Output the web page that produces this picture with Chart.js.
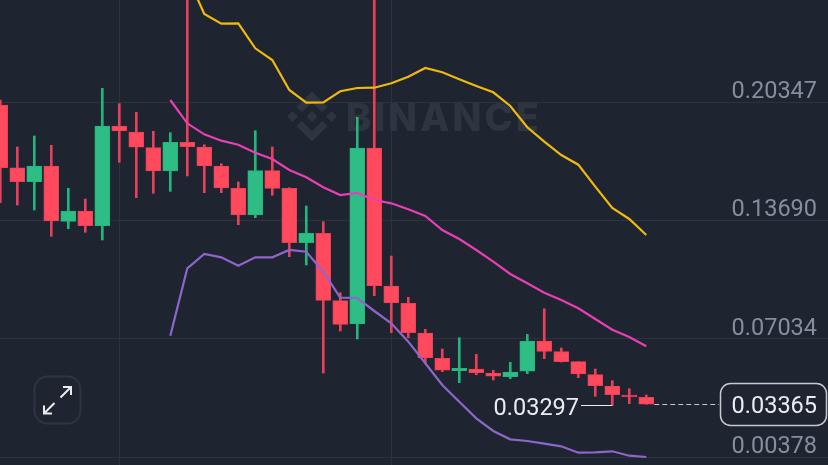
<!DOCTYPE html>
<html>
<head>
<meta charset="utf-8">
<title>Price chart</title>
<style>
  html, body { margin: 0; padding: 0; background: #1e2530; overflow: hidden; }
  canvas { display: block; }
</style>
<script src="https://cdn.jsdelivr.net/npm/chart.js@4/dist/chart.umd.min.js"></script>
</head>
<body>
<canvas id="price-chart" width="828" height="465"></canvas>
<script>
// Candles. Two wicks run off the top, so their highs are estimates.
const opens = [0.20179, 0.16655, 0.15869, 0.16751, 0.13643, 0.14222, 0.13396, 0.18999, 0.18662, 0.17779,
  0.16470, 0.18083, 0.17819, 0.16751, 0.15498, 0.13998, 0.16487, 0.15498, 0.12441, 0.12969,
  0.09182, 0.07872, 0.17762, 0.10008, 0.09036, 0.07367, 0.05945, 0.05248, 0.05344, 0.05119,
  0.04911, 0.05215, 0.06917, 0.06316, 0.05754, 0.05023, 0.04389, 0.03883, 0.03754];
const closes = [0.16655, 0.15869, 0.16751, 0.13660, 0.14222, 0.13396, 0.18999, 0.18718, 0.17802, 0.16470,
  0.18083, 0.17835, 0.16751, 0.15515, 0.13998, 0.16487, 0.15498, 0.12441, 0.12969, 0.09204,
  0.07855, 0.17762, 0.10025, 0.09053, 0.07384, 0.05962, 0.05271, 0.05383, 0.05136, 0.04934,
  0.05175, 0.06917, 0.06338, 0.05754, 0.05063, 0.04405, 0.03900, 0.03770, 0.03365];
const highs = [0.20460, 0.17819, 0.18437, 0.17914, 0.15498, 0.14897, 0.21117, 0.20252, 0.19768, 0.18701,
  0.18622, 0.29000, 0.17948, 0.16880, 0.15852, 0.18735, 0.17819, 0.15532, 0.14503, 0.13621,
  0.09631, 0.19488, 0.29000, 0.11694, 0.09373, 0.07575, 0.06468, 0.07103, 0.06170, 0.05271,
  0.05720, 0.07294, 0.08732, 0.06524, 0.05754, 0.05344, 0.04686, 0.04237, 0.03883];
const lows = [0.14689, 0.14559, 0.14278, 0.12801, 0.13228, 0.13025, 0.12593, 0.16959, 0.14970, 0.15217,
  0.15329, 0.16189, 0.15251, 0.15251, 0.13452, 0.13846, 0.15104, 0.11654, 0.11188, 0.05119,
  0.07479, 0.07030, 0.09463, 0.07384, 0.07103, 0.05664, 0.05192, 0.04574, 0.05023, 0.04726,
  0.04799, 0.05080, 0.05923, 0.05737, 0.04855, 0.03810, 0.03297, 0.03394, 0.03365];

// Bollinger bands only start at candle 10
const bandStart = 10;
const upperBand = [0.29451, 0.27428, 0.25292, 0.24747, 0.24770, 0.23365, 0.22707, 0.21022, 0.20308, 0.20330,
  0.20949, 0.21134, 0.21151, 0.21398, 0.21769, 0.22258, 0.22016, 0.21623, 0.21246, 0.20892,
  0.20123, 0.18926, 0.18116, 0.17369, 0.16824, 0.15588, 0.14391, 0.13773, 0.12874];
const middleBand = [0.20460, 0.19150, 0.18532, 0.18173, 0.17948, 0.17498, 0.17144, 0.16526, 0.16116, 0.15554,
  0.15121, 0.15234, 0.14840, 0.14655, 0.14318, 0.13941, 0.13155, 0.12649, 0.12031, 0.11373,
  0.10682, 0.10159, 0.09631, 0.09221, 0.08755, 0.08153, 0.07552, 0.07142, 0.06619];
const lowerBand = [0.07215, 0.11002, 0.11806, 0.11620, 0.11148, 0.11620, 0.11620, 0.12031, 0.11935, 0.10811,
  0.09350, 0.09333, 0.08603, 0.07912, 0.06878, 0.05664, 0.04445, 0.03506, 0.02573, 0.01860,
  0.01393, 0.01298, 0.01146, 0.01000, 0.00640, 0.00663, 0.00719, 0.00472, 0.00399];

const priceTicks = [0.20347, 0.13690, 0.07034, 0.00378];
const timeGridlines = [7, 23];
const lastPrice = 0.03365;
const lowPrice = 0.03297;
const lowIndex = 36;

const RED = "#ff4a5e";
const GREEN = "#2ebd85";
const RED_WICK = "#e8405a";
const GREEN_WICK = "#22b57c";
const GRID = "#2c323e";
const FONT = "Roboto, 'Noto Sans', sans-serif";

const isUp = (i) => closes[i] >= opens[i];
const bandPoints = (values) => values.map((y, i) => ({ x: i + bandStart, y }));

function bandDataset(label, values, color) {
  return {
    type: "line",
    label,
    data: bandPoints(values),
    borderColor: color,
    borderWidth: 2.2,
    pointRadius: 0,
    tension: 0,
    order: 0,
  };
}

// Binance watermark and the overlays the exchange draws on top of its chart
function drawWatermark(ctx) {
  ctx.save();
  ctx.fillStyle = "#2f3540";
  const cx = 312, cy = 116.5;
  const diamond = (x, y, r) => {
    ctx.beginPath();
    ctx.moveTo(x, y - r);
    ctx.lineTo(x + r, y);
    ctx.lineTo(x, y + r);
    ctx.lineTo(x - r, y);
    ctx.closePath();
    ctx.fill();
  };
  diamond(cx, cy, 5.5);
  diamond(cx - 19.5, cy, 5.5);
  diamond(cx + 19.5, cy, 5.5);
  // top and bottom chevrons
  [-1, 1].forEach((s) => {
    ctx.beginPath();
    ctx.moveTo(cx, cy + s * 25);
    ctx.lineTo(cx + 15.5, cy + s * 9.5);
    ctx.lineTo(cx + 10, cy + s * 4.5);
    ctx.lineTo(cx, cy + s * 14.5);
    ctx.lineTo(cx - 10, cy + s * 4.5);
    ctx.lineTo(cx - 15.5, cy + s * 9.5);
    ctx.closePath();
    ctx.fill();
  });
  ctx.font = "800 38px Inter, " + FONT;
  ctx.letterSpacing = "3px";
  ctx.textAlign = "left";
  ctx.textBaseline = "alphabetic";
  ctx.fillText("BINANCE", 346, 130.5);
  ctx.restore();
}

function drawExpandButton(ctx) {
  ctx.save();
  ctx.strokeStyle = "#2f3540";
  ctx.lineWidth = 2;
  ctx.beginPath();
  ctx.roundRect(34.5, 376.5, 46, 47, 13);
  ctx.stroke();
  ctx.strokeStyle = "#eaecef";
  ctx.lineWidth = 2;
  ctx.beginPath();
  ctx.moveTo(60.5, 397.5);
  ctx.lineTo(71, 387);
  ctx.moveTo(63, 387);
  ctx.lineTo(71, 387);
  ctx.lineTo(71, 395);
  ctx.moveTo(54.5, 403);
  ctx.lineTo(44, 413.5);
  ctx.moveTo(44, 405.5);
  ctx.lineTo(44, 413.5);
  ctx.lineTo(52, 413.5);
  ctx.stroke();
  ctx.restore();
}

function drawPriceLabels(chart) {
  const { ctx, scales } = chart;
  const lastY = Math.round(scales.y.getPixelForValue(lastPrice)) + 0.5;
  const lastX = scales.x.getPixelForValue(opens.length - 1) + 8;
  ctx.save();

  // dashed line from the last candle to the price box
  ctx.strokeStyle = "#c4c9d0";
  ctx.lineWidth = 1;
  ctx.setLineDash([5, 3]);
  ctx.beginPath();
  ctx.moveTo(lastX, lastY);
  ctx.lineTo(719, lastY);
  ctx.stroke();
  ctx.setLineDash([]);

  // price box
  ctx.strokeStyle = "#c4c9d0";
  ctx.lineWidth = 1.5;
  ctx.fillStyle = "#1e2530";
  ctx.beginPath();
  ctx.roundRect(720.5, 383.5, 106, 42, 10);
  ctx.fill();
  ctx.stroke();

  ctx.font = "400 23.5px " + FONT;
  ctx.fillStyle = "#eaecef";
  ctx.textBaseline = "middle";
  ctx.textAlign = "right";
  ctx.fillText(lastPrice.toFixed(5), 817, 407.5);

  // marker for the lowest visible price
  const lowY = Math.round(scales.y.getPixelForValue(lowPrice)) + 0.5;
  const lowX = scales.x.getPixelForValue(lowIndex);
  ctx.fillText(lowPrice.toFixed(5), 579, lowY + 3.5);
  ctx.strokeStyle = "#eaecef";
  ctx.lineWidth = 1;
  ctx.beginPath();
  ctx.moveTo(581, lowY);
  ctx.lineTo(lowX, lowY);
  ctx.stroke();
  ctx.restore();
}

const overlayPlugin = {
  id: "overlay",
  beforeDatasetsDraw(chart) {
    drawWatermark(chart.ctx);
  },
  afterDatasetsDraw(chart) {
    drawPriceLabels(chart);
    drawExpandButton(chart.ctx);
  },
};

// The axes sit inside the plot, so they must not take any room from it
function noAxisRoom(axis) {
  axis.paddingTop = axis.paddingBottom = axis.paddingLeft = axis.paddingRight = 0;
  if (axis.isHorizontal()) axis.height = 0;
  else axis.width = 0;
}

const ctx = document.getElementById("price-chart").getContext("2d");

new Chart(ctx, {
  type: "bar",
  data: {
    datasets: [
      bandDataset("Upper band", upperBand, "#f0b90b"),
      bandDataset("Middle band", middleBand, "#e93fb3"),
      bandDataset("Lower band", lowerBand, "#8e66c9"),
      {
        label: "Body",
        data: opens.map((o, i) => ({ x: i, y: [o, closes[i]] })),
        backgroundColor: opens.map((o, i) => (isUp(i) ? GREEN : RED)),
        borderColor: opens.map((o, i) => (isUp(i) ? GREEN_WICK : RED_WICK)),
        borderWidth: 1,
        borderSkipped: false,
        barThickness: 15,
        grouped: false,
        order: 1,
      },
      {
        label: "Wick",
        data: highs.map((h, i) => ({ x: i, y: [lows[i], h] })),
        backgroundColor: opens.map((o, i) => (isUp(i) ? GREEN_WICK : RED_WICK)),
        barThickness: 2,
        grouped: false,
        order: 2,
      },
    ],
  },
  options: {
    responsive: false,
    animation: false,
    layout: { padding: 0 },
    plugins: {
      legend: { display: false },
      tooltip: { enabled: false },
    },
    scales: {
      x: {
        type: "linear",
        min: -0.018,
        max: 48.69,
        offset: false,
        afterBuildTicks: (axis) => {
          axis.ticks = timeGridlines.map((value) => ({ value }));
        },
        afterFit: noAxisRoom,
        grid: { color: GRID, offset: false, drawTicks: false },
        border: { display: false },
        ticks: { display: false },
      },
      y: {
        type: "linear",
        position: "right",
        min: -0.00051,
        max: 0.26079,
        afterBuildTicks: (axis) => {
          axis.ticks = priceTicks.map((value) => ({ value }));
        },
        afterFit: noAxisRoom,
        grid: { color: GRID, drawTicks: false },
        border: { display: false },
        ticks: {
          mirror: true,
          padding: -11,
          labelOffset: -10,
          color: "#848e9c",
          font: { family: FONT, size: 23.5 },
          callback: (v) => v.toFixed(5),
        },
      },
    },
  },
  plugins: [overlayPlugin],
});
</script>
</body>
</html>
